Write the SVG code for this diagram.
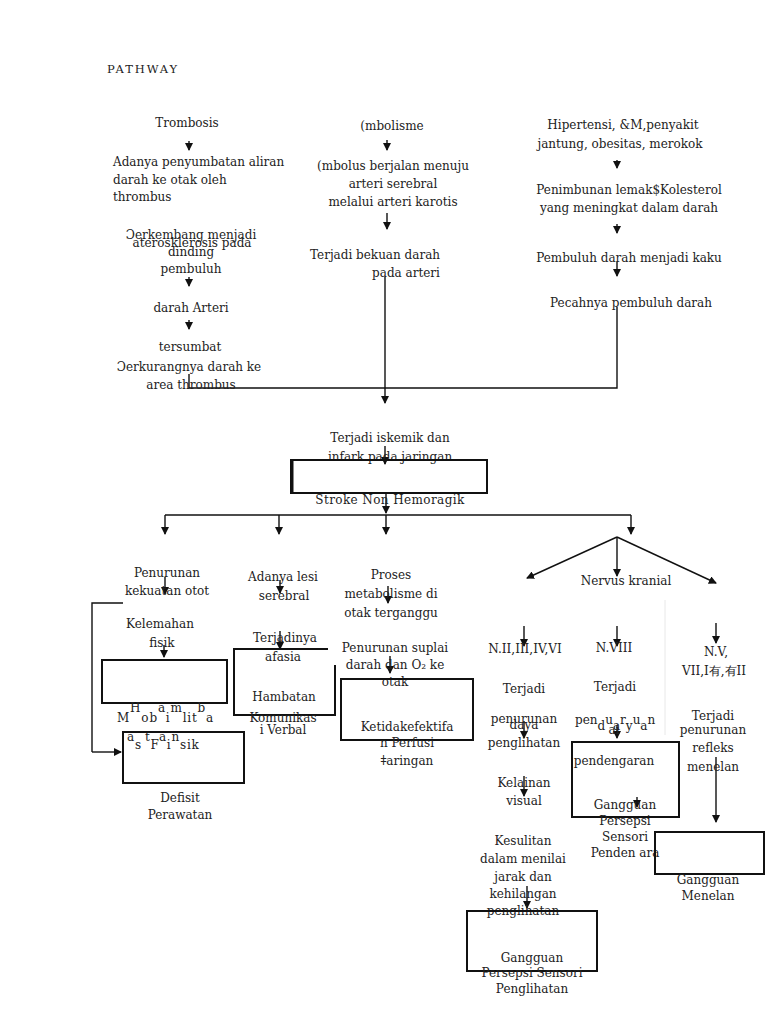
<svg xmlns="http://www.w3.org/2000/svg" width="768" height="1024" viewBox="0 0 768 1024">
<style>
text{font-family:"DejaVu Serif","Liberation Serif",serif;font-size:12px;fill:#222}
.c{text-anchor:middle}
.box{fill:none;stroke:#111;stroke-width:2}
.ln{fill:none;stroke:#111;stroke-width:1.4}
.ar{fill:none;stroke:#111;stroke-width:1.4;marker-end:url(#ah)}
</style>
<defs>
<marker id="ah" markerUnits="userSpaceOnUse" markerWidth="8" markerHeight="8" refX="7" refY="4" orient="auto">
<path d="M0,0 L8,4 L0,8 z" fill="#111"/>
</marker>
</defs>
<rect width="768" height="1024" fill="#fff"/>
<text x="107" y="73" style="font-size:11.5px;letter-spacing:1.9px">PATHWAY</text>

<g id="connectors">
<path class="ar" d="M189,141 V150"/>
<path class="ar" d="M189,277 V286"/>
<path class="ar" d="M189,320 V329"/>
<path class="ln" d="M189,374 V388 H617 V307"/>
<path class="ar" d="M387,140 V150"/>
<path class="ar" d="M387,213 V229"/>
<path class="ar" d="M617,160 V168"/>
<path class="ar" d="M617,224 V233"/>
<path class="ar" d="M617,262 V276"/>
<path class="ar" d="M385,277 V403"/>
<path class="ar" d="M385,446 V464"/>
<path class="ar" d="M386,493 V513"/>
<path class="ln" d="M165,515 H631"/>
<path class="ar" d="M165,515 V534"/>
<path class="ar" d="M279,515 V534"/>
<path class="ar" d="M386,515 V534"/>
<path class="ar" d="M631,515 V534"/>
<path class="ar" d="M617,537 L527,578"/>
<path class="ar" d="M617,537 L716,583"/>
<path class="ar" d="M617,537 V576"/>
<path class="ar" d="M165,577 V594"/>
<path class="ar" d="M280,580 V593"/>
<path class="ar" d="M388,586 V603"/>
<path class="ar" d="M164,645 V657"/>
<path class="ar" d="M280,631 V649"/>
<path class="ar" d="M390,656 V673"/>
<path class="ln" d="M123,603 H92 V752"/>
<path class="ar" d="M92,752 H121"/>
<path class="ar" d="M524,626 V646"/>
<path class="ar" d="M617,626 V646"/>
<path class="ar" d="M716,623 V643"/>
<path class="ar" d="M524,721 V738"/>
<path class="ar" d="M617,725 V738"/>
<path class="ar" d="M524,776 V796"/>
<path class="ar" d="M527,886 V908"/>
<path class="ar" d="M716,757 V822"/>
<path class="ar" d="M637,797 V807"/>
<path d="M665,600 V735" stroke="#e8e8e8" stroke-width="1" fill="none"/>
</g>

<g id="trombosis">
<text class="c" x="187" y="127">Trombosis</text>
<text x="113" y="166">Adanya penyumbatan aliran</text>
<text x="113" y="184">darah ke otak oleh</text>
<text x="113" y="201">thrombus</text>
</g>
<g id="aterosklerosis">
<text class="c" x="191" y="239">Ɔerkembang menjadi</text>
<text class="c" x="192" y="247">aterosklerosis pada</text>
<text class="c" x="191" y="256">dinding</text>
<text class="c" x="191" y="273">pembuluh</text>
<text class="c" x="191" y="312">darah Arteri</text>
<text class="c" x="190" y="351">tersumbat</text>
</g>
<g id="berkurang">
<text class="c" x="189" y="371">Ɔerkurangnya darah ke</text>
<text class="c" x="191" y="389">area thrombus</text>
</g>
<g id="embolisme">
<text class="c" x="392" y="130">(mbolisme</text>
<text class="c" x="393" y="170">(mbolus berjalan menuju</text>
<text class="c" x="393" y="188">arteri serebral</text>
<text class="c" x="393" y="206">melalui arteri karotis</text>
</g>
<g id="bekuan">
<text class="c" x="375" y="259">Terjadi bekuan darah</text>
<text class="c" x="406" y="277">pada arteri</text>
</g>
<g id="hipertensi">
<text class="c" x="623" y="129">Hipertensi, &amp;M,penyakit</text>
<text class="c" x="620" y="148">jantung, obesitas, merokok</text>
<text class="c" x="629" y="194">Penimbunan lemak$Kolesterol</text>
<text class="c" x="629" y="212">yang meningkat dalam darah</text>
<text class="c" x="629" y="262">Pembuluh darah menjadi kaku</text>
<text class="c" x="631" y="307">Pecahnya pembuluh darah</text>
</g>
<g id="iskemik">
<text class="c" x="390" y="442">Terjadi iskemik dan</text>
<text class="c" x="390" y="461">infark pada jaringan</text>
</g>
<g id="stroke">
<rect class="box" x="291" y="460" width="196" height="33"/>
<path d="M292,460 V493" stroke="#111" stroke-width="3"/>
<text class="c" x="390" y="504" style="letter-spacing:0.4px">Stroke Non Hemoragik</text>
</g>

<g id="otot">
<text class="c" x="167" y="577">Penurunan</text>
<text class="c" x="167" y="595">kekuatan otot</text>
<text class="c" x="160" y="628">Kelemahan</text>
<text class="c" x="162" y="647">fisik</text>
</g>
<g id="hambatan-mobilitas">
<rect class="box" x="102" y="660" width="125" height="43"/>
<text x="117" y="722" style="letter-spacing:0.8px">M<tspan dy="-10">H</tspan><tspan dy="10">ob</tspan><tspan dy="-10">a</tspan><tspan dy="10">i</tspan><tspan dy="-10">m</tspan><tspan dy="10">lit</tspan><tspan dy="-10">b</tspan><tspan dy="10">a</tspan></text>
<text x="127" y="741" style="letter-spacing:0.8px">a<tspan dy="8">s</tspan><tspan dx="3" dy="-8">t</tspan><tspan dy="8">F</tspan><tspan dy="-8">a</tspan><tspan dy="8">i</tspan><tspan dy="-8">n</tspan><tspan dy="8">sik</tspan></text>
</g>
<g id="defisit">
<rect class="box" x="123" y="732" width="121" height="51"/>
<text class="c" x="180" y="802">Defisit</text>
<text class="c" x="180" y="819">Perawatan</text>
</g>
<g id="lesi">
<text class="c" x="283" y="581">Adanya lesi</text>
<text class="c" x="284" y="600">serebral</text>
<text class="c" x="285" y="642">Terjadinya</text>
<text class="c" x="283" y="661">afasia</text>
</g>
<g id="hambatan-komunikasi">
<path class="box" d="M328,649 H234 V715 H335 V665"/>
<text class="c" x="284" y="701">Hambatan</text>
<text class="c" x="283" y="722">Komunikas</text>
<text class="c" x="283" y="734">i Verbal</text>
</g>
<g id="metabolisme">
<text class="c" x="391" y="579">Proses</text>
<text class="c" x="391" y="598">metabolisme di</text>
<text class="c" x="391" y="617">otak terganggu</text>
<text class="c" x="395" y="652">Penurunan suplai</text>
<text class="c" x="395" y="669">darah dan O₂ ke</text>
<text class="c" x="395" y="686">otak</text>
</g>
<g id="perfusi">
<rect class="box" x="341" y="679" width="132" height="61"/>
<text class="c" x="407" y="731">Ketidakefektifa</text>
<text class="c" x="407" y="747">n Perfusi</text>
<text class="c" x="407" y="765">ǂaringan</text>
</g>
<g id="nervus">
<text class="c" x="626" y="585">Nervus kranial</text>
</g>
<g id="n-ii">
<text class="c" x="525" y="653">N.II,III,IV,VI</text>
<text class="c" x="524" y="693">Terjadi</text>
<text class="c" x="524" y="723">penurunan</text>
<text class="c" x="524" y="729">daya</text>
<text class="c" x="524" y="747">penglihatan</text>
<text class="c" x="524" y="787">Kelainan</text>
<text class="c" x="524" y="805">visual</text>
<text class="c" x="523" y="845">Kesulitan</text>
<text class="c" x="523" y="863">dalam menilai</text>
<text class="c" x="523" y="881">jarak dan</text>
<text class="c" x="523" y="898">kehilangan</text>
<text class="c" x="523" y="915">penglihatan</text>
</g>
<g id="gangguan-penglihatan">
<rect class="box" x="467" y="911" width="130" height="60"/>
<text class="c" x="532" y="962">Gangguan</text>
<text class="c" x="532" y="977">Persepsi Sensori</text>
<text class="c" x="532" y="993">Penglihatan</text>
</g>
<g id="n-viii">
<text class="c" x="614" y="652">N.VIII</text>
<text class="c" x="615" y="691">Terjadi</text>
<text x="575" y="724">pen<tspan dy="6">d</tspan><tspan dy="-6">u</tspan><tspan dy="6">a</tspan><tspan dy="-6">r</tspan><tspan dy="6">y</tspan><tspan dy="-6">u</tspan><tspan dy="6">a</tspan><tspan dy="-6">n</tspan></text>
<text class="c" x="614" y="734">ai</text>
<text class="c" x="614" y="765">pendengaran</text>
</g>
<g id="gangguan-pendengaran">
<rect class="box" x="572" y="742" width="107" height="75"/>
<text class="c" x="625" y="809">Gangguan</text>
<text class="c" x="625" y="825">Persepsi</text>
<text class="c" x="625" y="841">Sensori</text>
<text class="c" x="625" y="857">Penden ara</text>
</g>
<g id="n-v">
<text class="c" x="716" y="656">N.V,</text>
<text class="c" x="714" y="675">VII,I有,有II</text>
<text class="c" x="713" y="720">Terjadi</text>
<text class="c" x="713" y="734">penurunan</text>
<text class="c" x="713" y="752">refleks</text>
<text class="c" x="713" y="771">menelan</text>
</g>
<g id="gangguan-menelan">
<rect class="box" x="655" y="832" width="109" height="42"/>
<text class="c" x="708" y="884">Gangguan</text>
<text class="c" x="708" y="900">Menelan</text>
</g>
</svg>
